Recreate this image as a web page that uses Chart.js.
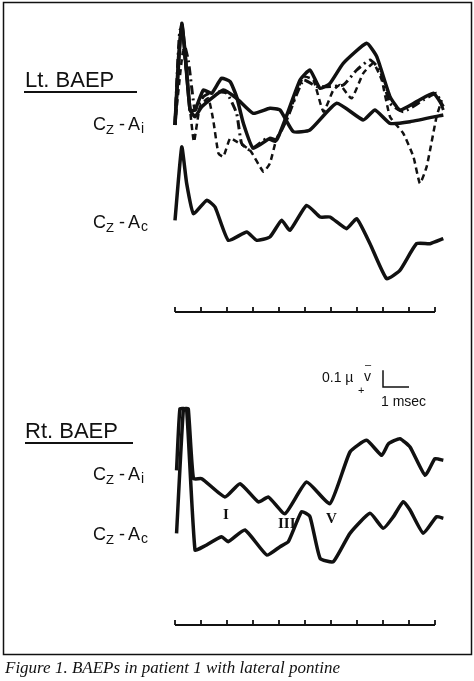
<!DOCTYPE html>
<html>
<head>
<meta charset="utf-8">
<script src="https://cdn.jsdelivr.net/npm/chart.js@4.4.0/dist/chart.umd.min.js"></script>
<style>
  html, body { margin: 0; padding: 0; background: #fff; }
  #wrap { position: relative; width: 474px; height: 681px; }
</style>
</head>
<body>
<div id="wrap"><canvas id="baep"></canvas></div>
<script>
// Time in msec, amplitude in nV (deflection from each trace's own baseline)

// Lt. BAEP, Cz - Ai (four superimposed trials)
const ltAiSolidT = [0, .13, .26, .38, .58, .77, 1.03, 1.86, 2.37, 3.01, 3.65, 4.04, 4.55, 5.19, 6.22, 7.24, 7.69, 8.27, 9.04, 10.32];
const ltAiSolidV = [-90, 300, 510, 360, 0, -40, 20, 120, 70, -20, 10, 0, -130, -120, 40, -60, 0, -80, -70, -30];

const ltAiSolid2T = [0, .26, .58, .77, 1.09, 1.41, 1.79, 2.12, 2.37, 2.63, 3.01, 3.65, 3.91, 4.23, 4.81, 5.19, 5.58, 5.96, 6.47, 7.37, 7.76, 8.27, 8.65, 9.29, 9.94, 10.32];
const ltAiSolid2V = [-90, 520, 0, 0, 120, 100, 190, 170, 80, -80, -230, -170, -180, -60, 180, 240, 130, 160, 280, 400, 320, 80, 0, 50, 100, 20];

const ltAiDashDotT = [0, .19, .51, .77, 1.09, 1.47, 1.99, 2.37, 2.56, 2.88, 3.53, 3.85, 4.29, 4.94, 5.45, 5.83, 6.47, 6.99, 7.5, 7.88, 8.27, 8.78, 9.55, 10.06, 10.32];
const ltAiDashDotV = [-90, 480, 300, 0, 80, 110, 100, -20, -200, -240, -170, -190, -60, 180, 140, 140, 150, 240, 300, 240, 40, -10, 60, 100, 0];

const ltAiDashedT = [0, .32, .58, .73, .96, 1.28, 1.47, 1.67, 1.86, 2.12, 2.37, 2.88, 3.4, 3.65, 3.91, 4.29, 4.94, 5.32, 5.71, 6.09, 6.35, 6.79, 7.24, 7.63, 7.95, 8.27, 8.78, 9.17, 9.42, 9.68, 10.06, 10.26];
const ltAiDashedV = [-90, 360, 0, -190, 20, 70, -60, -260, -280, -170, -190, -240, -370, -320, -170, -60, 200, 180, -10, 120, 150, 70, 220, 280, 180, -40, -140, -280, -440, -340, -40, 60];

// Lt. BAEP, Cz - Ac
const ltAcT = [0, .26, .45, .71, 1.22, 1.54, 2.05, 2.76, 3.14, 3.65, 4.1, 4.42, 5.06, 5.58, 5.96, 6.6, 6.99, 7.5, 8.14, 8.65, 9.29, 9.81, 10.32];
const ltAcV = [40, 480, 260, 80, 160, 120, -80, -30, -80, -60, 40, -20, 130, 60, 60, -10, 50, -100, -310, -260, -100, -100, -70];

// Rt. BAEP, Cz - Ai
const rtAiT = [.06, .19, .38, .51, .71, 1.03, 1.92, 2.5, 3.21, 3.59, 4.23, 5.06, 5.96, 6.73, 7.37, 7.95, 8.21, 8.65, 9.04, 9.62, 10, 10.32];
const rtAiV = [100, 470, 470, 470, 50, 50, -60, 20, -90, -60, -160, 30, -100, 210, 280, 190, 260, 290, 240, 70, 170, 160];

// Rt. BAEP, Cz - Ac
const rtAcT = [.06, .32, .45, .77, 1.09, 1.79, 2.05, 2.69, 3.53, 4.04, 4.36, 4.87, 5.19, 5.58, 6.09, 6.73, 7.5, 8.01, 8.4, 8.78, 9.04, 9.55, 10.06, 10.32];
const rtAcV = [40, 780, 780, -60, -40, 20, -10, 60, -90, -40, -10, 170, 140, -110, -130, 40, 160, 70, 140, 230, 180, 40, 140, 130];

// Time ruler ticks (msec) and calibration bar
const rulerTicks = [0, 1, 2, 3, 4, 5, 6, 7, 8, 9, 10];
const calTime = [8, 9];      // 1 msec
const calAmp = 100;          // 0.1 uV

// Vertical placement of each row (nV on the page axis)
const BASE_LT_AI = -660, BASE_LT_AC = -1362, RULER_LT = -1872;
const BASE_RT_AI = -2922, BASE_RT_AC = -3240, RULER_RT = -3750;
const CAL_BASE = -2322;

function trace(ts, vs, base) {
    return ts.map((t, i) => ({ x: t, y: base + vs[i] }));
}

function ruler(base) {
    const pts = [];
    rulerTicks.forEach(t => {
        pts.push({ x: t, y: base + 30 }, { x: t, y: base }, { x: t, y: null });
    });
    return pts;
}

function rulerLine(base) {
    return [{ x: rulerTicks[0], y: base }, { x: rulerTicks[rulerTicks.length - 1], y: base }];
}

const ink = '#111';
function ds(data, width, dash, tension) {
    return {
        data: data, borderColor: ink, borderWidth: width, borderDash: dash || [],
        pointRadius: 0, tension: tension === undefined ? 0.15 : tension, fill: false, spanGaps: false
    };
}

const datasets = [
    ds(trace(ltAiSolidT, ltAiSolidV, BASE_LT_AI), 3.5),
    ds(trace(ltAiSolid2T, ltAiSolid2V, BASE_LT_AI), 3.5),
    ds(trace(ltAiDashDotT, ltAiDashDotV, BASE_LT_AI), 3, [9, 4, 2, 4]),
    ds(trace(ltAiDashedT, ltAiDashedV, BASE_LT_AI), 2.5, [6, 4]),
    ds(trace(ltAcT, ltAcV, BASE_LT_AC), 3.5),
    ds(trace(rtAiT, rtAiV, BASE_RT_AI), 3.5),
    ds(trace(rtAcT, rtAcV, BASE_RT_AC), 3.5),
    ds(rulerLine(RULER_LT), 1.8, [], 0),
    ds(ruler(RULER_LT), 1.8, [], 0),
    ds(rulerLine(RULER_RT), 1.8, [], 0),
    ds(ruler(RULER_RT), 1.8, [], 0),
    ds([{ x: calTime[0], y: CAL_BASE + calAmp }, { x: calTime[0], y: CAL_BASE }, { x: calTime[1], y: CAL_BASE }], 1.5, [], 0)
];

// Text labels, frame and caption
const labelsPlugin = {
    id: 'labels',
    afterDraw(chart) {
        const ctx = chart.ctx;
        ctx.save();
        ctx.fillStyle = ink;
        ctx.strokeStyle = ink;

        ctx.lineWidth = 1.5;
        ctx.strokeRect(3.5, 2.5, 468, 652);

        ctx.font = '22px "Liberation Sans"';
        ctx.fillText('Lt. BAEP', 25, 87);
        ctx.fillText('Rt. BAEP', 25, 438);
        ctx.lineWidth = 2;
        ctx.beginPath();
        ctx.moveTo(24, 92); ctx.lineTo(137, 92);
        ctx.moveTo(25, 443); ctx.lineTo(133, 443);
        ctx.stroke();

        function cz(x, y, sub) {
            ctx.font = '18px "Liberation Sans"';
            ctx.fillText('C', x, y);
            ctx.font = '13px "Liberation Sans"';
            ctx.fillText('Z', x + 13, y + 4);
            ctx.font = '18px "Liberation Sans"';
            ctx.fillText('-', x + 26, y);
            ctx.fillText('A', x + 35, y);
            ctx.font = '14px "Liberation Sans"';
            ctx.fillText(sub, x + 48, y + 3);
        }
        cz(93, 130, 'i');
        cz(93, 228, 'c');
        cz(93, 480, 'i');
        cz(93, 540, 'c');

        ctx.font = '14px "Liberation Sans"';
        ctx.fillText('0.1 \u00b5', 322, 382);
        ctx.fillText('v', 364, 381);
        ctx.font = '11px "Liberation Sans"';
        ctx.fillText('\u2013', 365, 368);
        ctx.fillText('+', 358, 394);
        ctx.font = '14px "Liberation Sans"';
        ctx.fillText('1 msec', 381, 406);

        ctx.font = 'bold 15px "Liberation Serif"';
        ctx.fillText('I', 223, 519);
        ctx.fillText('III', 278, 528);
        ctx.fillText('V', 326, 523);

        ctx.font = 'italic 17px "Liberation Serif"';
        ctx.fillText('Figure 1. BAEPs in patient 1 with lateral pontine', 5, 673);
        ctx.restore();
    }
};

new Chart(document.getElementById('baep'), {
    type: 'line',
    data: { datasets: datasets },
    options: {
        responsive: true,
        maintainAspectRatio: false,
        animation: false,
        layout: { padding: 0 },
        scales: {
            x: { type: 'linear', min: -175 / 26, max: 299 / 26, display: false },
            y: { min: -4086, max: 0, display: false }
        },
        plugins: { legend: { display: false }, tooltip: { enabled: false } }
    },
    plugins: [labelsPlugin]
});
</script>
</body>
</html>
